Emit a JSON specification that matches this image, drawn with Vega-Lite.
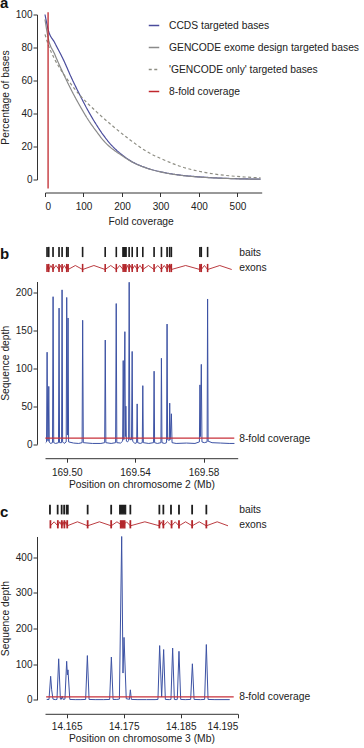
{
  "$schema": "https://vega.github.io/schema/vega-lite/v6.json",
  "padding": {"left": 0, "top": -4.5, "right": 0, "bottom": 0},
  "spacing": 0,
  "config": {
    "view": {"stroke": null},
    "font": "Liberation Sans",
    "axis": {"labelFont": "Liberation Sans", "titleFont": "Liberation Sans", "labelFontSize": 10, "titleFontSize": 10.3, "titleFontWeight": "normal", "labelColor": "#222", "titleColor": "#222", "domainColor": "#333", "tickColor": "#333", "grid": false, "tickSize": 4, "labelOverlap": false},
    "title": {"font": "Liberation Sans", "fontSize": 15, "fontWeight": "bold", "anchor": "start", "frame": "group", "baseline": "alphabetic", "color": "#111", "dx": -45}
  },
  "datasets": {
    "a_curves": [
      {"series": "CCDS targeted bases", "fold": 0, "pct": 100},
      {"series": "CCDS targeted bases", "fold": 8, "pct": 91},
      {"series": "CCDS targeted bases", "fold": 25, "pct": 83},
      {"series": "CCDS targeted bases", "fold": 48, "pct": 72.5},
      {"series": "CCDS targeted bases", "fold": 70, "pct": 61},
      {"series": "CCDS targeted bases", "fold": 91, "pct": 51},
      {"series": "CCDS targeted bases", "fold": 110, "pct": 42.5},
      {"series": "CCDS targeted bases", "fold": 134, "pct": 33},
      {"series": "CCDS targeted bases", "fold": 156, "pct": 25.5},
      {"series": "CCDS targeted bases", "fold": 178, "pct": 19.5},
      {"series": "CCDS targeted bases", "fold": 200, "pct": 15},
      {"series": "CCDS targeted bases", "fold": 221, "pct": 11.5},
      {"series": "CCDS targeted bases", "fold": 264, "pct": 7},
      {"series": "CCDS targeted bases", "fold": 308, "pct": 4.3},
      {"series": "CCDS targeted bases", "fold": 350, "pct": 2.7},
      {"series": "CCDS targeted bases", "fold": 394, "pct": 1.7},
      {"series": "CCDS targeted bases", "fold": 440, "pct": 1},
      {"series": "CCDS targeted bases", "fold": 481, "pct": 0.6},
      {"series": "CCDS targeted bases", "fold": 520, "pct": 0.35},
      {"series": "CCDS targeted bases", "fold": 560, "pct": 0.2},
      {"series": "GENCODE exome design targeted bases", "fold": 0, "pct": 97},
      {"series": "GENCODE exome design targeted bases", "fold": 8, "pct": 86},
      {"series": "GENCODE exome design targeted bases", "fold": 25, "pct": 76},
      {"series": "GENCODE exome design targeted bases", "fold": 48, "pct": 64},
      {"series": "GENCODE exome design targeted bases", "fold": 70, "pct": 53.5},
      {"series": "GENCODE exome design targeted bases", "fold": 91, "pct": 44.5},
      {"series": "GENCODE exome design targeted bases", "fold": 110, "pct": 37},
      {"series": "GENCODE exome design targeted bases", "fold": 134, "pct": 29},
      {"series": "GENCODE exome design targeted bases", "fold": 156, "pct": 22.5},
      {"series": "GENCODE exome design targeted bases", "fold": 178, "pct": 18},
      {"series": "GENCODE exome design targeted bases", "fold": 200, "pct": 14.5},
      {"series": "GENCODE exome design targeted bases", "fold": 221, "pct": 11.3},
      {"series": "GENCODE exome design targeted bases", "fold": 264, "pct": 6.9},
      {"series": "GENCODE exome design targeted bases", "fold": 308, "pct": 4.2},
      {"series": "GENCODE exome design targeted bases", "fold": 350, "pct": 2.6},
      {"series": "GENCODE exome design targeted bases", "fold": 394, "pct": 1.6},
      {"series": "GENCODE exome design targeted bases", "fold": 440, "pct": 0.95},
      {"series": "GENCODE exome design targeted bases", "fold": 481, "pct": 0.55},
      {"series": "GENCODE exome design targeted bases", "fold": 520, "pct": 0.3},
      {"series": "GENCODE exome design targeted bases", "fold": 560, "pct": 0.15},
      {"series": "'GENCODE only' targeted bases", "fold": 0, "pct": 88},
      {"series": "'GENCODE only' targeted bases", "fold": 8, "pct": 82},
      {"series": "'GENCODE only' targeted bases", "fold": 25, "pct": 73},
      {"series": "'GENCODE only' targeted bases", "fold": 48, "pct": 64},
      {"series": "'GENCODE only' targeted bases", "fold": 70, "pct": 57},
      {"series": "'GENCODE only' targeted bases", "fold": 91, "pct": 51},
      {"series": "'GENCODE only' targeted bases", "fold": 134, "pct": 41},
      {"series": "'GENCODE only' targeted bases", "fold": 178, "pct": 32},
      {"series": "'GENCODE only' targeted bases", "fold": 221, "pct": 24},
      {"series": "'GENCODE only' targeted bases", "fold": 264, "pct": 17},
      {"series": "'GENCODE only' targeted bases", "fold": 308, "pct": 12},
      {"series": "'GENCODE only' targeted bases", "fold": 351, "pct": 8},
      {"series": "'GENCODE only' targeted bases", "fold": 394, "pct": 5.3},
      {"series": "'GENCODE only' targeted bases", "fold": 438, "pct": 3.4},
      {"series": "'GENCODE only' targeted bases", "fold": 481, "pct": 2.2},
      {"series": "'GENCODE only' targeted bases", "fold": 520, "pct": 1.5},
      {"series": "'GENCODE only' targeted bases", "fold": 560, "pct": 1}
    ],
    "a_rule": [{"series": "8-fold coverage", "fold": 8}],
    "b_trace": [
      {"pos": 169.4877, "depth": 2}, {"pos": 169.4882, "depth": 3}, {"pos": 169.48853, "depth": 121}, {"pos": 169.4889, "depth": 5},
      {"pos": 169.4892, "depth": 4}, {"pos": 169.48951, "depth": 76}, {"pos": 169.4898, "depth": 3}, {"pos": 169.4905, "depth": 1},
      {"pos": 169.4917, "depth": 2}, {"pos": 169.49203, "depth": 194}, {"pos": 169.4924, "depth": 2}, {"pos": 169.4935, "depth": 1},
      {"pos": 169.4952, "depth": 2}, {"pos": 169.49553, "depth": 179}, {"pos": 169.4958, "depth": 2},
      {"pos": 169.4970, "depth": 2}, {"pos": 169.49728, "depth": 203}, {"pos": 169.4976, "depth": 3}, {"pos": 169.4985, "depth": 1},
      {"pos": 169.4997, "depth": 3}, {"pos": 169.5000, "depth": 193}, {"pos": 169.5004, "depth": 12}, {"pos": 169.50078, "depth": 166}, {"pos": 169.5011, "depth": 3},
      {"pos": 169.5040, "depth": 1.5}, {"pos": 169.5070, "depth": 1},
      {"pos": 169.5090, "depth": 2}, {"pos": 169.50933, "depth": 163}, {"pos": 169.5097, "depth": 2},
      {"pos": 169.5150, "depth": 1}, {"pos": 169.5200, "depth": 1},
      {"pos": 169.5222, "depth": 2}, {"pos": 169.52254, "depth": 137}, {"pos": 169.5229, "depth": 2}, {"pos": 169.5260, "depth": 1},
      {"pos": 169.5286, "depth": 2}, {"pos": 169.52896, "depth": 185}, {"pos": 169.5293, "depth": 2}, {"pos": 169.5315, "depth": 1.5},
      {"pos": 169.5327, "depth": 4}, {"pos": 169.53304, "depth": 110}, {"pos": 169.5334, "depth": 6}, {"pos": 169.53401, "depth": 148}, {"pos": 169.5343, "depth": 10}, {"pos": 169.53459, "depth": 50}, {"pos": 169.5349, "depth": 4},
      {"pos": 169.5356, "depth": 3}, {"pos": 169.5362, "depth": 5}, {"pos": 169.53653, "depth": 213}, {"pos": 169.5369, "depth": 6},
      {"pos": 169.5379, "depth": 6}, {"pos": 169.53828, "depth": 122}, {"pos": 169.5386, "depth": 4}, {"pos": 169.5398, "depth": 1},
      {"pos": 169.5409, "depth": 2}, {"pos": 169.5412, "depth": 53}, {"pos": 169.5415, "depth": 2}, {"pos": 169.5430, "depth": 1},
      {"pos": 169.5442, "depth": 2}, {"pos": 169.5445, "depth": 77}, {"pos": 169.5448, "depth": 2}, {"pos": 169.5480, "depth": 1},
      {"pos": 169.5508, "depth": 2}, {"pos": 169.55111, "depth": 96}, {"pos": 169.5514, "depth": 2}, {"pos": 169.5530, "depth": 1},
      {"pos": 169.5551, "depth": 2}, {"pos": 169.55538, "depth": 113}, {"pos": 169.5557, "depth": 2}, {"pos": 169.5572, "depth": 1},
      {"pos": 169.5584, "depth": 2}, {"pos": 169.55869, "depth": 158}, {"pos": 169.5590, "depth": 6}, {"pos": 169.5600, "depth": 5}, {"pos": 169.56024, "depth": 54}, {"pos": 169.5605, "depth": 6}, {"pos": 169.56122, "depth": 40}, {"pos": 169.5616, "depth": 2},
      {"pos": 169.5640, "depth": 1}, {"pos": 169.5700, "depth": 1.5}, {"pos": 169.5750, "depth": 1},
      {"pos": 169.5776, "depth": 3}, {"pos": 169.57793, "depth": 78}, {"pos": 169.5782, "depth": 10}, {"pos": 169.57871, "depth": 105}, {"pos": 169.5791, "depth": 3}, {"pos": 169.5805, "depth": 2},
      {"pos": 169.5821, "depth": 3}, {"pos": 169.5824, "depth": 191}, {"pos": 169.5827, "depth": 4},
      {"pos": 169.5850, "depth": 2}, {"pos": 169.5900, "depth": 1.5}, {"pos": 169.5950, "depth": 1}, {"pos": 169.5981, "depth": 1}
    ],
    "b_rule": [{"cov": 8, "from": 169.4875, "to": 169.598}],
    "b_baits": [
      {"start": 169.48838, "end": 169.48862}, {"start": 169.48938, "end": 169.48962}, {"start": 169.49188, "end": 169.49212},
      {"start": 169.49538, "end": 169.49562}, {"start": 169.49718, "end": 169.49742}, {"start": 169.49988, "end": 169.50012},
      {"start": 169.50068, "end": 169.50092}, {"start": 169.50918, "end": 169.50942}, {"start": 169.52238, "end": 169.52262},
      {"start": 169.52888, "end": 169.52912}, {"start": 169.5328, "end": 169.5348}, {"start": 169.53638, "end": 169.53662},
      {"start": 169.53818, "end": 169.53842}, {"start": 169.54108, "end": 169.54132}, {"start": 169.54438, "end": 169.54462},
      {"start": 169.55098, "end": 169.55122}, {"start": 169.55528, "end": 169.55552}, {"start": 169.55858, "end": 169.55882},
      {"start": 169.56008, "end": 169.56032}, {"start": 169.56108, "end": 169.56132}, {"start": 169.57778, "end": 169.57802},
      {"start": 169.57858, "end": 169.57882}, {"start": 169.58228, "end": 169.58252}
    ],
    "b_exons": [
      {"start": 169.4884, "end": 169.4886}, {"start": 169.4894, "end": 169.4896}, {"start": 169.4919, "end": 169.4921},
      {"start": 169.4954, "end": 169.4956}, {"start": 169.4972, "end": 169.4974}, {"start": 169.4999, "end": 169.5001},
      {"start": 169.5007, "end": 169.5009}, {"start": 169.5092, "end": 169.5094}, {"start": 169.5224, "end": 169.5226},
      {"start": 169.5289, "end": 169.5291}, {"start": 169.5329, "end": 169.5331}, {"start": 169.5339, "end": 169.5341},
      {"start": 169.5345, "end": 169.5347}, {"start": 169.5364, "end": 169.5366}, {"start": 169.5382, "end": 169.5384},
      {"start": 169.5411, "end": 169.5413}, {"start": 169.5444, "end": 169.5446}, {"start": 169.5510, "end": 169.5512},
      {"start": 169.5553, "end": 169.5555}, {"start": 169.5586, "end": 169.5588}, {"start": 169.5601, "end": 169.5603},
      {"start": 169.5611, "end": 169.5613}, {"start": 169.5778, "end": 169.5780}, {"start": 169.5786, "end": 169.5788},
      {"start": 169.5823, "end": 169.5825}
    ],
    "b_gene": [
      {"pos": 169.4885, "level": 0}, {"pos": 169.4890, "level": 1}, {"pos": 169.4895, "level": 0}, {"pos": 169.49075, "level": 1},
      {"pos": 169.4920, "level": 0}, {"pos": 169.49375, "level": 1}, {"pos": 169.4955, "level": 0}, {"pos": 169.4964, "level": 1},
      {"pos": 169.4973, "level": 0}, {"pos": 169.49865, "level": 1}, {"pos": 169.5000, "level": 0}, {"pos": 169.5004, "level": 1},
      {"pos": 169.5008, "level": 0}, {"pos": 169.50505, "level": 1}, {"pos": 169.5093, "level": 0}, {"pos": 169.5159, "level": 1},
      {"pos": 169.5225, "level": 0}, {"pos": 169.52575, "level": 1}, {"pos": 169.5290, "level": 0}, {"pos": 169.5310, "level": 1},
      {"pos": 169.5330, "level": 0}, {"pos": 169.5335, "level": 1}, {"pos": 169.5340, "level": 0}, {"pos": 169.5343, "level": 1},
      {"pos": 169.5346, "level": 0}, {"pos": 169.53555, "level": 1}, {"pos": 169.5365, "level": 0}, {"pos": 169.5374, "level": 1},
      {"pos": 169.5383, "level": 0}, {"pos": 169.53975, "level": 1}, {"pos": 169.5412, "level": 0}, {"pos": 169.54285, "level": 1},
      {"pos": 169.5445, "level": 0}, {"pos": 169.5478, "level": 1}, {"pos": 169.5511, "level": 0}, {"pos": 169.55325, "level": 1},
      {"pos": 169.5554, "level": 0}, {"pos": 169.55705, "level": 1}, {"pos": 169.5587, "level": 0}, {"pos": 169.55945, "level": 1},
      {"pos": 169.5602, "level": 0}, {"pos": 169.5607, "level": 1}, {"pos": 169.5612, "level": 0}, {"pos": 169.56955, "level": 1},
      {"pos": 169.5779, "level": 0}, {"pos": 169.5783, "level": 1}, {"pos": 169.5787, "level": 0}, {"pos": 169.58055, "level": 1},
      {"pos": 169.5824, "level": 0}, {"pos": 169.5895, "level": 1}, {"pos": 169.5965, "level": 0}
    ],
    "c_trace": [
      {"pos": 14.1615, "depth": 1}, {"pos": 14.1619, "depth": 1}, {"pos": 14.16219, "depth": 66}, {"pos": 14.16237, "depth": 28}, {"pos": 14.1626, "depth": 2},
      {"pos": 14.1630, "depth": 0.5}, {"pos": 14.1633, "depth": 1}, {"pos": 14.1636, "depth": 115}, {"pos": 14.1639, "depth": 2},
      {"pos": 14.16405, "depth": 1}, {"pos": 14.16421, "depth": 10}, {"pos": 14.1644, "depth": 1},
      {"pos": 14.1647, "depth": 2}, {"pos": 14.1650, "depth": 108}, {"pos": 14.16513, "depth": 70}, {"pos": 14.16523, "depth": 84}, {"pos": 14.16555, "depth": 1},
      {"pos": 14.1665, "depth": 0.5}, {"pos": 14.1675, "depth": 0.5},
      {"pos": 14.16833, "depth": 1}, {"pos": 14.16863, "depth": 124}, {"pos": 14.16893, "depth": 1},
      {"pos": 14.1700, "depth": 0.5}, {"pos": 14.1715, "depth": 0.5},
      {"pos": 14.17254, "depth": 1}, {"pos": 14.17284, "depth": 120}, {"pos": 14.17314, "depth": 1}, {"pos": 14.1738, "depth": 1},
      {"pos": 14.17425, "depth": 2}, {"pos": 14.17465, "depth": 458}, {"pos": 14.17488, "depth": 75}, {"pos": 14.17506, "depth": 175}, {"pos": 14.17545, "depth": 3},
      {"pos": 14.1758, "depth": 2}, {"pos": 14.176, "depth": 1}, {"pos": 14.17617, "depth": 28}, {"pos": 14.17635, "depth": 1},
      {"pos": 14.1775, "depth": 0.5}, {"pos": 14.179, "depth": 0.5}, {"pos": 14.1805, "depth": 0.5},
      {"pos": 14.18101, "depth": 1}, {"pos": 14.18131, "depth": 152}, {"pos": 14.18166, "depth": 8}, {"pos": 14.18201, "depth": 141}, {"pos": 14.18231, "depth": 1},
      {"pos": 14.1830, "depth": 0.5}, {"pos": 14.18329, "depth": 1}, {"pos": 14.18359, "depth": 145}, {"pos": 14.18389, "depth": 1},
      {"pos": 14.1842, "depth": 0.5}, {"pos": 14.1844, "depth": 1}, {"pos": 14.1847, "depth": 136}, {"pos": 14.185, "depth": 1},
      {"pos": 14.1858, "depth": 0.5}, {"pos": 14.18675, "depth": 1}, {"pos": 14.18705, "depth": 101}, {"pos": 14.18735, "depth": 1},
      {"pos": 14.1885, "depth": 0.5}, {"pos": 14.1892, "depth": 1}, {"pos": 14.1895, "depth": 155}, {"pos": 14.1898, "depth": 1},
      {"pos": 14.191, "depth": 0.5}, {"pos": 14.1936, "depth": 0.5}
    ],
    "c_rule": [{"cov": 8, "from": 14.1614, "to": 14.1943}],
    "c_baits": [
      {"start": 14.16202, "end": 14.16212}, {"start": 14.16337, "end": 14.16347}, {"start": 14.16407, "end": 14.16417},
      {"start": 14.16451, "end": 14.16461}, {"start": 14.16495, "end": 14.16525}, {"start": 14.16863, "end": 14.16873},
      {"start": 14.17276, "end": 14.17286}, {"start": 14.1743, "end": 14.17535}, {"start": 14.17612, "end": 14.17622},
      {"start": 14.18121, "end": 14.18131}, {"start": 14.18191, "end": 14.18201}, {"start": 14.18325, "end": 14.18335},
      {"start": 14.18465, "end": 14.18475}, {"start": 14.18696, "end": 14.18706}, {"start": 14.18945, "end": 14.18955}
    ],
    "c_exons": [
      {"start": 14.1621, "end": 14.1622}, {"start": 14.1634, "end": 14.1635}, {"start": 14.1641, "end": 14.1642},
      {"start": 14.16455, "end": 14.16465}, {"start": 14.16505, "end": 14.16515}, {"start": 14.16863, "end": 14.16873},
      {"start": 14.17276, "end": 14.17286}, {"start": 14.17443, "end": 14.17522}, {"start": 14.17612, "end": 14.17622},
      {"start": 14.18121, "end": 14.18131}, {"start": 14.18191, "end": 14.18201}, {"start": 14.18335, "end": 14.18345},
      {"start": 14.18465, "end": 14.18475}, {"start": 14.18696, "end": 14.18706}, {"start": 14.18945, "end": 14.18955}
    ],
    "c_gene": [
      {"pos": 14.16215, "level": 0}, {"pos": 14.1628, "level": 1}, {"pos": 14.16345, "level": 0}, {"pos": 14.1638, "level": 1},
      {"pos": 14.16415, "level": 0}, {"pos": 14.164375, "level": 1}, {"pos": 14.1646, "level": 0}, {"pos": 14.16485, "level": 1},
      {"pos": 14.1651, "level": 0}, {"pos": 14.16689, "level": 1}, {"pos": 14.16868, "level": 0}, {"pos": 14.170745, "level": 1},
      {"pos": 14.17281, "level": 0}, {"pos": 14.17382, "level": 1}, {"pos": 14.17483, "level": 0}, {"pos": 14.1755, "level": 1},
      {"pos": 14.17617, "level": 0}, {"pos": 14.178715, "level": 1}, {"pos": 14.18126, "level": 0}, {"pos": 14.18161, "level": 1},
      {"pos": 14.18196, "level": 0}, {"pos": 14.18268, "level": 1}, {"pos": 14.1834, "level": 0}, {"pos": 14.18405, "level": 1},
      {"pos": 14.1847, "level": 0}, {"pos": 14.185855, "level": 1}, {"pos": 14.18701, "level": 0}, {"pos": 14.188255, "level": 1},
      {"pos": 14.1895, "level": 0}, {"pos": 14.1914, "level": 1}, {"pos": 14.1933, "level": 0}
    ]
  },
  "vconcat": [
    {
      "title": {"text": "a", "offset": -1.5},
      "width": 216.7,
      "height": 165,
      "layer": [
        {
          "data": {"name": "a_curves"},
          "mark": {"type": "line", "strokeWidth": 1.2, "interpolate": "monotone"},
          "encoding": {
            "x": {"field": "fold", "type": "quantitative", "scale": {"domain": [0, 563], "nice": false}, "axis": {"values": [0, 100, 200, 300, 400, 500], "format": "d", "offset": 13, "title": "Fold coverage", "titleX": 95.7, "labelPadding": 5, "titlePadding": 5}},
            "y": {"field": "pct", "type": "quantitative", "scale": {"domain": [0, 100], "nice": false}, "axis": {"values": [0, 20, 40, 60, 80, 100], "format": "d", "labelOverlap": false, "offset": 8, "title": "Percentage of bases", "labelPadding": 1, "titlePadding": 5}},
            "color": {"field": "series", "type": "nominal", "scale": {"domain": ["CCDS targeted bases", "GENCODE exome design targeted bases", "'GENCODE only' targeted bases", "8-fold coverage"], "range": ["#4a4c9c", "#8a8a8a", "#8e8e84", "#c0272d"]},
              "legend": {"orient": "none", "legendX": 103, "legendY": 5, "title": null, "symbolType": "stroke", "symbolSize": 110, "symbolStrokeWidth": 1.5, "labelFont": "Liberation Sans", "labelFontSize": 10.3, "labelColor": "#222", "labelLimit": 400, "labelOffset": 9, "rowPadding": 10}},
            "strokeDash": {"field": "series", "type": "nominal", "scale": {"domain": ["CCDS targeted bases", "GENCODE exome design targeted bases", "'GENCODE only' targeted bases", "8-fold coverage"], "range": [[1, 0], [1, 0], [3, 2.5], [1, 0]]},
              "legend": {"orient": "none", "legendX": 103, "legendY": 5, "title": null, "symbolType": "stroke", "symbolSize": 110, "symbolStrokeWidth": 1.5, "labelFont": "Liberation Sans", "labelFontSize": 10.3, "labelColor": "#222", "labelLimit": 400, "labelOffset": 9, "rowPadding": 10}}
          }
        },
        {
          "data": {"name": "a_rule"},
          "mark": {"type": "rule", "strokeWidth": 1.3},
          "encoding": {
            "x": {"field": "fold", "type": "quantitative"},
            "y": {"datum": 101.3, "type": "quantitative", "axis": {"values": [0, 20, 40, 60, 80, 100], "format": "d", "labelOverlap": false, "offset": 8, "title": "Percentage of bases", "labelPadding": 1, "titlePadding": 5}},
            "y2": {"datum": -5.5},
            "color": {"field": "series", "type": "nominal"},
            "strokeDash": {"field": "series", "type": "nominal"}
          }
        }
      ]
    },
    {
      "title": {"text": "b", "offset": -28, "dy": 6},
      "width": 192.7,
      "height": 51.5,
      "layer": [
        {
          "data": {"name": "b_baits"},
          "mark": {"type": "rect", "color": "#1e1e1e", "stroke": "#1e1e1e", "strokeWidth": 1.2},
          "encoding": {
            "x": {"field": "start", "type": "quantitative", "scale": {"domain": [169.4873, 169.6], "nice": false, "zero": false}, "axis": null},
            "x2": {"field": "end"},
            "y": {"datum": 3.25, "type": "quantitative", "scale": {"domain": [-2.375, 10.5], "nice": false, "zero": false}, "axis": {"orient": "right", "values": [4.375, 0.4], "labelExpr": "datum.value > 2 ? 'baits' : 'exons'", "domain": false, "ticks": false, "labelPadding": 1, "title": null, "labelFontSize": 10.3}},
            "y2": {"datum": 5.5}
          }
        },
        {
          "data": {"name": "b_gene"},
          "mark": {"type": "line", "color": "#b3262b", "strokeWidth": 0.9},
          "encoding": {"x": {"field": "pos", "type": "quantitative"}, "y": {"field": "level", "type": "quantitative"}}
        },
        {
          "data": {"name": "b_exons"},
          "mark": {"type": "rect", "color": "#b3262b", "stroke": "#b3262b", "strokeWidth": 1.2},
          "encoding": {"x": {"field": "start", "type": "quantitative"}, "x2": {"field": "end"}, "y": {"datum": -0.5}, "y2": {"datum": 1.25}}
        }
      ]
    },
    {
      "width": 192.7,
      "height": 162.7,
      "layer": [
        {
          "data": {"name": "b_trace"},
          "mark": {"type": "line", "color": "#3c52a4", "strokeWidth": 1},
          "encoding": {
            "x": {"field": "pos", "type": "quantitative", "scale": {"domain": [169.4873, 169.6], "nice": false, "zero": false}, "axis": {"values": [169.5, 169.52, 169.54, 169.56, 169.58, 169.6], "format": ".2f", "labelExpr": "indexof(['169.50','169.54','169.58'], datum.label) >= 0 ? datum.label : ''", "offset": 14, "title": "Position on chromosome 2 (Mb)", "labelPadding": 5, "titlePadding": 2}},
            "y": {"field": "depth", "type": "quantitative", "scale": {"domain": [0, 214], "nice": false}, "axis": {"orient": "left", "values": [0, 50, 100, 150, 200], "offset": 8, "title": "Sequence depth", "labelPadding": 1, "titlePadding": 5}}
          }
        },
        {
          "data": {"name": "b_rule"},
          "mark": {"type": "rule", "color": "#c8303a", "strokeWidth": 1.2},
          "encoding": {
            "x": {"field": "from", "type": "quantitative"},
            "x2": {"field": "to"},
            "y": {"field": "cov", "type": "quantitative", "axis": {"orient": "right", "values": [8], "labelExpr": "'8-fold coverage'", "domain": false, "ticks": false, "labelPadding": 1, "title": null, "labelFontSize": 10.3}}
          }
        }
      ],
      "resolve": {"axis": {"y": "independent"}}
    },
    {
      "title": {"text": "c", "offset": -26, "dy": 4},
      "width": 192.7,
      "height": 45,
      "layer": [
        {
          "data": {"name": "c_baits"},
          "mark": {"type": "rect", "color": "#1e1e1e", "stroke": "#1e1e1e", "strokeWidth": 1.2},
          "encoding": {
            "x": {"field": "start", "type": "quantitative", "scale": {"domain": [14.1612, 14.195], "nice": false, "zero": false}, "axis": null},
            "x2": {"field": "end"},
            "y": {"datum": 3.0, "type": "quantitative", "scale": {"domain": [-2.175, 9.075], "nice": false, "zero": false}, "axis": {"orient": "right", "values": [4.0, 0.4], "labelExpr": "datum.value > 2 ? 'baits' : 'exons'", "domain": false, "ticks": false, "labelPadding": 1, "title": null, "labelFontSize": 10.3}},
            "y2": {"datum": 5.1}
          }
        },
        {
          "data": {"name": "c_gene"},
          "mark": {"type": "line", "color": "#b3262b", "strokeWidth": 0.9},
          "encoding": {"x": {"field": "pos", "type": "quantitative"}, "y": {"field": "level", "type": "quantitative"}}
        },
        {
          "data": {"name": "c_exons"},
          "mark": {"type": "rect", "color": "#b3262b", "stroke": "#b3262b", "strokeWidth": 1.2},
          "encoding": {"x": {"field": "start", "type": "quantitative"}, "x2": {"field": "end"}, "y": {"datum": -0.5}, "y2": {"datum": 1.25}}
        }
      ]
    },
    {
      "width": 192.7,
      "height": 163.3,
      "layer": [
        {
          "data": {"name": "c_trace"},
          "mark": {"type": "line", "color": "#3c52a4", "strokeWidth": 1},
          "encoding": {
            "x": {"field": "pos", "type": "quantitative", "scale": {"domain": [14.1612, 14.195], "nice": false, "zero": false}, "axis": {"values": [14.165, 14.17, 14.175, 14.18, 14.185, 14.19, 14.195], "format": ".3f", "labelExpr": "indexof(['14.165','14.175','14.185','14.195'], datum.label) >= 0 ? datum.label : ''", "offset": 14, "title": "Position on chromosome 3 (Mb)", "labelPadding": 4, "titlePadding": 2}},
            "y": {"field": "depth", "type": "quantitative", "scale": {"domain": [0, 458], "nice": false}, "axis": {"orient": "left", "values": [0, 100, 200, 300, 400], "offset": 8, "title": "Sequence depth", "labelPadding": 1, "titlePadding": 5}}
          }
        },
        {
          "data": {"name": "c_rule"},
          "mark": {"type": "rule", "color": "#c8303a", "strokeWidth": 1.2},
          "encoding": {
            "x": {"field": "from", "type": "quantitative"},
            "x2": {"field": "to"},
            "y": {"field": "cov", "type": "quantitative", "axis": {"orient": "right", "values": [8], "labelExpr": "'8-fold coverage'", "domain": false, "ticks": false, "labelPadding": 1, "title": null, "labelFontSize": 10.3}}
          }
        }
      ],
      "resolve": {"axis": {"y": "independent"}}
    }
  ]
}
